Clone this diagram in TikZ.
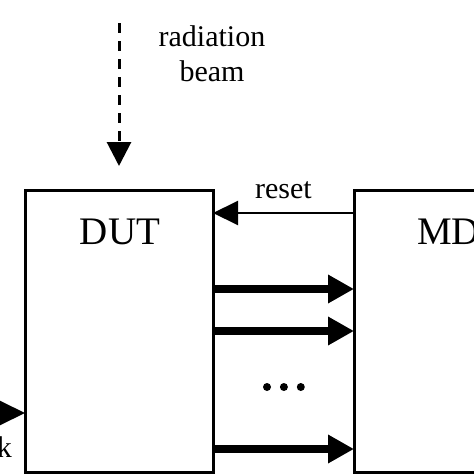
\documentclass[tikz,border=0pt]{standalone}
\usepackage{fontspec}
\setmainfont{Liberation Serif}
\usepackage{tikz}
\usetikzlibrary{
	positioning,
	arrows.meta
}
\tikzset{
	block/.style={
		draw, line width=3pt, outer sep=0pt, inner sep=0pt,
		minimum width=188pt, minimum height=282pt
	},
	bus/.style={
		line width=8pt, -{Triangle[length=26pt,width=27pt]}
	},
	wire/.style={
		line width=2pt, -{Triangle[length=25pt,width=24pt]}
	},
	beam/.style={
		line width=3pt, dash pattern=on 10pt off 8pt,
		-{Triangle[length=24pt,width=24pt]}
	},
	dot/.style={
		circle, fill, inner sep=0pt, minimum size=8pt
	},
	lbl/.style={
		font=\fontsize{30pt}{35pt}\selectfont, inner sep=0pt
	},
	title/.style={
		font=\fontsize{39pt}{44pt}\selectfont, inner sep=0pt
	}
}

\begin{document}
\begin{tikzpicture}[x=1pt,y=-1pt]
		\useasboundingbox (0,0) rectangle (474,474);
		\clip (0,0) rectangle (474,474);
		\node[block]                (dut) at (119,331) {};
		\node[block,right=141pt of dut] (md) {};
		\node[title,anchor=base]      (dutname) at (120,244) {DUT};
		\node[title,anchor=base west] (mdname)  at (417,244) {MD};
		\node[lbl,align=center,anchor=south] (beamname) at (212,82) {radiation\\beam};
		\node[lbl,anchor=base east]   (clkname) at (12,457) {k};
		\coordinate (clkin) at (-5,413);
		
		\draw[beam] ([yshift=167pt]dut.north) -- ([yshift=24pt]dut.north);
		\draw[wire] ([yshift=118pt]md.west) -- node[lbl,above=13pt] {reset} ([yshift=118pt]dut.east);
		\draw[wire] (clkin) -- (dut.west |- clkin);
		\draw[bus] ([yshift=42pt]dut.east) -- ([yshift=42pt]md.west);
		\draw[bus] (dut) -- (md);
		\draw[bus] ([yshift=-118pt]dut.east) -- ([yshift=-118pt]md.west);
		
		\node[dot] (dot1) at (267,387) {};
		\node[dot,right=8.5pt of dot1] (dot2) {};
		\node[dot,right=8.5pt of dot2] (dot3) {};
	\end{tikzpicture}
\end{document}
